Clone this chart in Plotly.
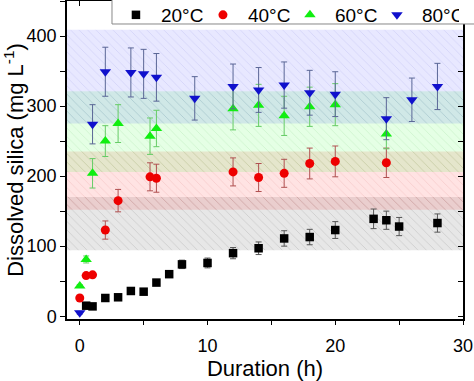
import plotly.graph_objects as go

# ---- data ----
x20 = [0.5, 1, 2, 3, 4, 5, 6, 7, 8, 10, 12, 14, 16, 18, 20, 23, 24, 25, 28]
y20 = [15, 14, 26, 27, 36, 35, 48, 60, 74, 76, 90, 97, 111, 113, 123, 139, 137, 128, 133]
e20 = [3, 3, 3, 3, 3, 3, 3, 4, 6, 7, 8, 9, 11, 11, 12, 14, 13, 13, 13]

x40 = [0, 0.5, 1, 2, 3, 5.5, 6, 12, 14, 16, 18, 20, 24]
y40 = [26, 58, 59, 123, 165, 199, 197, 206, 198, 204, 218, 221, 219]
e40 = [2, 3, 3, 13, 16, 20, 20, 20, 20, 20, 22, 22, 21]

x60 = [0, 0.5, 1, 2, 3, 5.5, 6, 12, 14, 16, 18, 20, 24]
y60 = [43, 81, 204, 250, 275, 257, 268, 296, 301, 286, 299, 302, 260]
e60 = [2, 5, 21, 22, 27, 26, 26, 30, 30, 28, 28, 30, 21]

x80 = [0, 1, 2, 4, 5, 6, 9, 12, 14, 16, 18, 20, 24, 26, 28]
y80 = [5, 274, 349, 348, 346, 341, 311, 328, 323, 330, 319, 317, 282, 309, 328]
e80 = [2, 28, 35, 35, 35, 34, 31, 32, 32, 33, 32, 32, 30, 31, 33]

series_names = ["20°C", "40°C", "60°C", "80°C"]

band_low = [94, 152, 206, 275]
band_high = [170, 235, 321, 409]
x_range = [-1, 30]
y_range = [-4, 450]

# ---- styles ----
band_fill = ["rgba(120,120,120,0.18)", "rgba(255,0,0,0.11)",
             "rgba(0,255,0,0.10)", "rgba(0,0,255,0.09)"]
band_line = ["rgba(90,90,90,0.22)", "rgba(200,60,60,0.16)",
             "rgba(60,180,60,0.16)", "rgba(60,60,200,0.14)"]
marker_col = ["#000000", "#ee0000", "#11ee11", "#1010cc"]
err_col = ["#555555", "#b05050", "#66cc66", "#5a6696"]
symbols = ["square", "circle", "triangle-up", "triangle-down"]
sizes = [8.5, 9, 10, 10]

fig = go.Figure()

for lo, hi, fc, lc in zip(band_low, band_high, band_fill, band_line):
    fig.add_trace(go.Scatter(
        x=[x_range[0], x_range[1], x_range[1], x_range[0], x_range[0]],
        y=[lo, lo, hi, hi, lo],
        fill="toself", mode="none", showlegend=False, hoverinfo="skip",
        fillcolor=fc,
        fillpattern=dict(shape="\\", size=6, solidity=0.12,
                         bgcolor=fc, fgcolor=lc, fgopacity=1, fillmode="replace"),
    ))

for xs, ys, es, name, mc, ec, sym, sz in zip(
        [x20, x40, x60, x80], [y20, y40, y60, y80], [e20, e40, e60, e80],
        series_names, marker_col, err_col, symbols, sizes):
    fig.add_trace(go.Scatter(
        x=xs, y=ys, mode="markers", name=name,
        marker=dict(symbol=sym, size=sz, color=mc, line=dict(width=0)),
        error_y=dict(type="data", array=es, visible=True, color=ec,
                     thickness=1, width=3),
    ))

font_fam = "Arial, Liberation Sans, sans-serif"
fig.update_layout(
    width=474, height=381,
    margin=dict(l=67, r=11, t=1, b=62, autoexpand=False),
    paper_bgcolor="white", plot_bgcolor="white",
    font=dict(family=font_fam, size=18, color="black"),
    showlegend=True,
    legend=dict(orientation="h", x=0.111, xanchor="left", y=0.956, yanchor="middle",
                bgcolor="rgba(0,0,0,0)", borderwidth=0,
                itemwidth=40, entrywidth=32, entrywidthmode="pixels",
                font=dict(size=19)),
    shapes=[dict(type="rect", xref="paper", yref="paper",
                 x0=0.1136, x1=1.05, y0=0.9277, y1=1.1,
                 fillcolor="white", line=dict(color="#888888", width=1),
                 layer="above")],
    xaxis=dict(range=x_range, tick0=0, dtick=10, ticks="outside", ticklen=4,
               tickwidth=1, tickcolor="black", automargin=False,
               minor=dict(dtick=5, ticks="outside", ticklen=4, tickcolor="black"),
               showline=True, linecolor="black", linewidth=1.5, mirror=True,
               showgrid=False, zeroline=False, ticklabelstandoff=6,
               title=dict(text="Duration (h)", standoff=10)),
    yaxis=dict(range=y_range, tick0=0, dtick=100, ticks="outside", ticklen=5,
               tickwidth=1, tickcolor="black", automargin=False,
               minor=dict(dtick=50, ticks="outside", ticklen=5, tickcolor="black"),
               showline=True, linecolor="black", linewidth=1.5, mirror=True,
               showgrid=False, zeroline=False,
               title=dict(text="Dissolved silica (mg L<sup>-1</sup>)", standoff=6)),
    xaxis2=dict(range=x_range, overlaying="x", side="top", anchor="y",
                tick0=0, dtick=5, ticks="inside", ticklen=5, tickcolor="black",
                showticklabels=False, showgrid=False, zeroline=False),
    yaxis2=dict(range=y_range, overlaying="y", side="right", anchor="x",
                tick0=0, dtick=50, ticks="inside", ticklen=5, tickcolor="black",
                showticklabels=False, showgrid=False, zeroline=False),
)
fig.add_trace(go.Scatter(x=[], y=[], xaxis="x2", yaxis="y2", showlegend=False))

fig.write_html("out.html", config={"displayModeBar": False},
               post_script="document.body.style.margin='0';")
